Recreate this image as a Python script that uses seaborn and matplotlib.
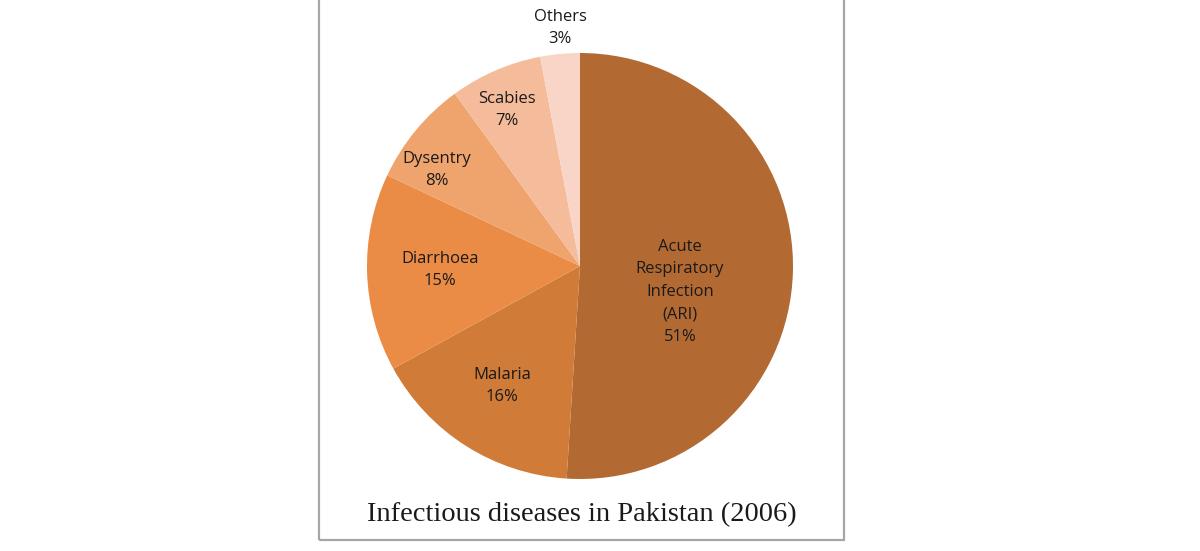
import matplotlib.pyplot as plt
import matplotlib.patches as mpatches
import seaborn as sns

# Datos del gráfico
enfermedades = ['Acute\nRespiratory\nInfection\n(ARI)', 'Malaria', 'Diarrhoea', 'Dysentry', 'Scabies', 'Others']
porcentajes = [51, 16, 15, 8, 7, 3]
colores = ['#B36A32', '#D07B37', '#EA8C46', '#F0A46D', '#F5BC9C', '#F8D5C6']

# Posición de cada etiqueta (coordenadas del eje del pie)
pos_etiquetas = [(0.469, -0.122), (-0.366, -0.563), (-0.657, -0.019),
                 (-0.671, 0.451), (-0.343, 0.732), (-0.094, 1.117)]

sns.set_style("white")
plt.rcParams['font.family'] = ['Open Sans', 'DejaVu Sans']

fig = plt.figure(figsize=(12, 5.51), dpi=100)

# Marco gris alrededor del gráfico
marco = mpatches.Rectangle((319 / 1200, 11 / 551), (844 - 319) / 1200, 1.05,
                           transform=fig.transFigure, fill=False,
                           edgecolor='#A6A6A6', linewidth=1.6)
fig.patches.append(marco)

# Ejes del pie: centro (580, 266) px, radio 213 px
r = 213
ax = fig.add_axes([(580 - r) / 1200, (551 - 266 - r) / 551, 2 * r / 1200, 2 * r / 551])
ax.pie(porcentajes, colors=colores, startangle=90, counterclock=False,
       radius=1, wedgeprops={'linewidth': 0})
ax.set_xlim(-1, 1)
ax.set_ylim(-1, 1)
ax.set_aspect('auto')
ax.axis('off')

for nombre, pct, (x, y) in zip(enfermedades, porcentajes, pos_etiquetas):
    ax.text(x, y, f"{nombre}\n{pct}%", ha='center', va='center', fontsize=12,
            color='#1a1a1a', linespacing=1.55, clip_on=False)

fig.text(582 / 1200, 1 - 515 / 551, "Infectious diseases in Pakistan (2006)",
         ha='center', va='center', fontsize=20.5, family='Liberation Serif', color='#1a1a1a')

plt.savefig("out.png", dpi=100)
